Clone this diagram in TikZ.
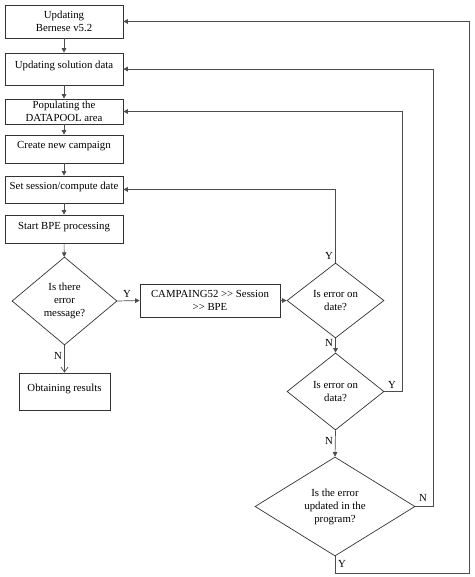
\documentclass[tikz,border=0pt]{standalone}
\usepackage{fontspec}
\setmainfont{Liberation Serif}
\usetikzlibrary{shapes.geometric,arrows.meta}
\begin{document}
\begin{tikzpicture}[x=1pt, y=-1pt, >={Triangle[length=4.5pt,width=4.5pt]},
  font=\fontsize{10.8}{13}\selectfont, line width=.7pt,
  box/.style={draw=black!80, rectangle, minimum width=118pt, inner sep=1pt, align=center},
  onel/.style={text height=7pt, text depth=7pt},
  dec/.style={draw=black!80, diamond, inner sep=0pt, align=center},
  flow/.style={draw=black!70, ->},
  lab/.style={inner sep=0pt}]
\useasboundingbox (0,0) rectangle (474,577);
% main column
\node[box, minimum height=33pt](bern) at (64,21.5){Updating\\Bernese v5.2};
\node[box, onel, minimum height=32pt](sol) at (64,69){Updating solution data};
\node[box, minimum height=25pt](pool) at (64,111.5){Populating the\\DATAPOOL area};
\node[box, onel, minimum height=28pt](camp) at (64,149){Create new campaign};
\node[box, onel, minimum height=27pt](sess) at (64,189.5){Set session/compute date};
\node[box, onel, minimum height=28pt](bpe) at (64,229){Start BPE processing};
\node[dec, minimum width=105pt, minimum height=88pt](err) at (64.5,301){Is there\\error\\message?};
\node[box, onel, minimum width=91pt, minimum height=37pt](res) at (64.5,391.5){Obtaining results};
\node[box, minimum width=140pt, minimum height=33pt](run) at (210,300.5){CAMPAING52 >{}> Session\\>{}> BPE};
% checks
\node[dec, minimum width=97pt, minimum height=75pt](date) at (335.5,300.5){Is error on\\date?};
\node[dec, minimum width=97pt, minimum height=77pt](data) at (335.5,391.5){Is error on\\data?};
\node[dec, minimum width=160pt, minimum height=99pt](prog) at (335,506.5){Is the error\\updated in the\\program?};
\coordinate (c3) at (402,111.5);
\coordinate (c2) at (433,69);
\coordinate (c1) at (469,21.5);
\coordinate (c0) at (469,573);
\draw[flow](bern)--(sol);
\draw[flow](sol)--(pool);
\draw[flow](pool)--(camp);
\draw[flow](camp)--(sess);
\draw[flow](sess)--(bpe);
\draw[flow](bpe)--(err);
\draw[flow](err.east)--(run.west);
\draw[draw=black!70, -{Straight Barb[length=5pt,width=7pt]}](err.south)--(res.north);
\draw[flow](run.east)--(date.west);
\draw[flow](date.north)|-(sess.east);
\draw[flow](date.south)--(data.north);
\draw[flow](data.east)-|(c3)--(pool.east);
\draw[flow](data.south)--(prog.north);
\draw[flow](prog.east)-|(c2)--(sol.east);
\draw[flow](prog.south)|-(c0)--(c1)--(bern.east);
% labels
\node[lab](y1) at (127,294){Y};
\node[lab](n1) at (58,356){N};
\node[lab](y2) at (329,256){Y};
\node[lab](n2) at (329,343){N};
\node[lab](y3) at (392,385){Y};
\node[lab](n3) at (329,441){N};
\node[lab](n4) at (423,498){N};
\node[lab](y4) at (342,564){Y};
\end{tikzpicture}
\end{document}
